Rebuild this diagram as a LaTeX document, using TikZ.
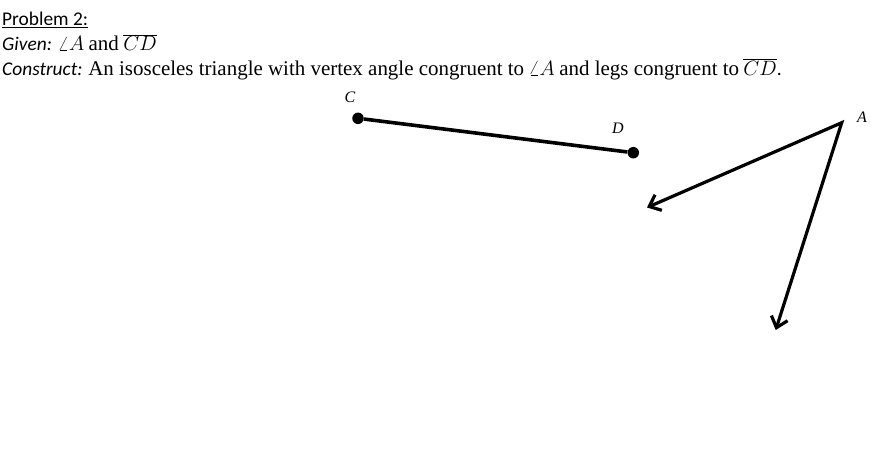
\documentclass[tikz,border=0pt]{standalone}
\usepackage{fontspec}
\setmainfont{Carlito}
\newfontfamily\textserif{Liberation Serif}[Scale=1.08]
\newfontfamily\labelserif{Liberation Serif}
\usetikzlibrary{positioning,arrows.meta}

\begin{document}
\begin{tikzpicture}[x=1pt,y=-1pt,
  every node/.style={inner sep=0pt},
  dot/.style={circle,fill,minimum size=11.5pt},
  seg/.style={line width=3.6pt},
  ray/.style={line width=3.2pt,line join=miter,{Straight Barb[length=10pt,width=17pt]}-{Straight Barb[length=10pt,width=17pt]}},
  lbl/.style={font=\fontsize{16}{16}\selectfont\labelserif\itshape},
  txt/.style={anchor=base west,font=\fontsize{19.4}{24.6}\selectfont}]
\useasboundingbox (0,0) rectangle (885,472);
\node[txt] (title) at (2,25.7) {\underline{Problem 2:}};
\node[txt] (given) at (2,50.7) {\textit{Given:} $\angle A$ {\textserif and} $\overline{CD}$};
\node[txt] (task) at (2,75) {\textit{Construct:} {\textserif An isosceles triangle with vertex angle congruent to} $\angle A$ {\textserif and legs congruent to} $\overline{CD}$.};

\node[dot] (C) at (358,118.3) {};
\node[dot] (D) at (633.3,152.7) {};
\node[lbl] (Clab) at (350,97.7) {C};
\node[lbl] (Dlab) at (618,128) {D};

\coordinate (A) at (841.7,122.7);
\coordinate (A1) at (647,207.5);
\coordinate (A2) at (775.7,330);
\node[lbl] (Alab) at (862,117) {A};

\draw[seg] (C) -- (D);
\draw[ray] (A1) -- (A) -- (A2);
\end{tikzpicture}
\end{document}
